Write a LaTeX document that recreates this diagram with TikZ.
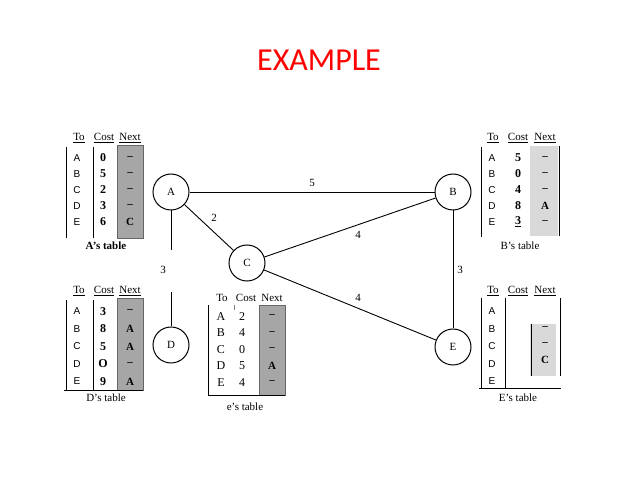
\documentclass[tikz,border=0pt]{standalone}
\usepackage{fontspec}
\setmainfont{Liberation Serif}
\setsansfont{Liberation Sans}
\newfontfamily\titlefont{Carlito}
\begin{document}
\begin{tikzpicture}[x=1pt,y=-1pt,
  router/.style={circle,draw,line width=1pt,minimum size=36pt,inner sep=0pt,font=\fontsize{11}{13}\selectfont},
  edge/.style={line width=0.9pt},
  elabel/.style={font=\fontsize{11}{13}\selectfont},
  hdr/.style={font=\fontsize{11}{13}\selectfont,anchor=base},
  let/.style={font=\sffamily\fontsize{10}{12}\selectfont},
  cst/.style={font=\fontsize{12}{14}\selectfont\bfseries},
  nxt/.style={font=\fontsize{11}{13}\selectfont\bfseries},
  tcap/.style={font=\fontsize{11}{13}\selectfont},
  shade/.style={fill=black!35,draw=black!60},
  tline/.style={line width=0.8pt}]
\useasboundingbox (0,0) rectangle (638,478);
\node[font=\titlefont\fontsize{32}{36}\selectfont,text=red] (title) at (319,60) {EXAMPLE};
% routers
\node[router] (A) at (171,192) {A};
\node[router] (B) at (453,192) {B};
\node[router] (C) at (247,263) {C};
\node[router] (D) at (171,345) {D};
\node[router] (E) at (453,347) {E};
\coordinate (ad1) at (171,250);
\coordinate (ad2) at (171,292);
\draw[edge] (A) -- (B);
\draw[edge] (A) -- (C);
\draw[edge] (C) -- (B);
\draw[edge] (C) -- (E);
\draw[edge] (B) -- (E);
\draw[edge] (A) -- (ad1);
\draw[edge] (ad2) -- (D);
\node[elabel] (l5) at (312,183) {5};
\node[elabel] (l2) at (214,218) {2};
\node[elabel] (l4a) at (358,235) {4};
\node[elabel] (l4b) at (358,298) {4};
\node[elabel] (l3a) at (163,270) {3};
\node[elabel] (l3b) at (460,270) {3};
% A's table
\fill[shade] (117,145) rectangle (143,238);
\draw[tline] (66,147) -- (66,238) (93,147) -- (93,238);
\node[hdr] (ah1) at (79,141) {\underline{To}};
\node[hdr] (ah2) at (104,141) {\underline{Cost}};
\node[hdr] (ah3) at (130,141) {\underline{Next}};
\foreach \l/\c/\n [count=\i] in {A/0/--,B/5/--,C/2/--,D/3/--,E/6/C}{
  \node[let] (al\i) at (77,142+16*\i) {\l};
  \node[cst] (ac\i) at (103,142+16*\i) {\c};
  \node[nxt] (an\i) at (130,142+16*\i) {\n};}
\node[tcap,font=\fontsize{11}{13}\selectfont\bfseries] (acap) at (106,246) {A's table};
% D's table
\fill[shade] (117,298) rectangle (143,390);
\draw[tline] (66,300) -- (66,390) (93,300) -- (93,390) (64,390) -- (143,390);
\node[hdr] (dh1) at (79,294) {\underline{To}};
\node[hdr] (dh2) at (104,294) {\underline{Cost}};
\node[hdr] (dh3) at (130,294) {\underline{Next}};
\foreach \l/\c/\n [count=\i] in {A/3/--,B/8/A,C/5/A,D/O/--,E/9/A}{
  \node[let] (dl\i) at (77,294+17.5*\i) {\l};
  \node[cst] (dc\i) at (103,294+17.5*\i) {\c};
  \node[nxt] (dn\i) at (130,294+17.5*\i) {\n};}
\node[tcap] (dcap) at (106,398) {D's table};
% C's table
\fill[shade] (259,305) rectangle (285,395);
\draw[tline] (208,305) -- (208,395) -- (285,395);
\draw[black!50] (234,305) -- (234,310);
\node[hdr] (ch1) at (222,302) {To};
\node[hdr] (ch2) at (246,302) {Cost};
\node[hdr] (ch3) at (272,302) {Next};
\foreach \l/\c/\n [count=\i] in {A/2/--,B/4/--,C/0/--,D/5/A,E/4/--}{
  \node[font=\fontsize{12}{14}\selectfont] (cl\i) at (221,300+16.5*\i) {\l};
  \node[font=\fontsize{12}{14}\selectfont] (cc\i) at (242,300+16.5*\i) {\c};
  \node[nxt] (cn\i) at (272,300+16.5*\i) {\n};}
\node[tcap] (ccap) at (245,407) {e's table};
% B's table
\fill[black!15] (530,146) rectangle (558,236);
\draw[tline] (481,147) -- (481,237) (559,146) -- (559,236);
\node[hdr] (bh1) at (493,141) {\underline{To}};
\node[hdr] (bh2) at (518,141) {\underline{Cost}};
\node[hdr] (bh3) at (545,141) {\underline{Next}};
\foreach \l/\c/\n [count=\i] in {A/5/--,B/0/--,C/4/--,D/8/A,E/\underline{3}/--}{
  \node[let] (bl\i) at (492,142+16*\i) {\l};
  \node[cst] (bc\i) at (518,142+16*\i) {\c};
  \node[nxt] (bn\i) at (545,142+16*\i) {\n};}
\node[tcap] (bcap) at (520,246) {B's table};
% E's table
\fill[black!15] (530,324) rectangle (556,376);
\draw[tline] (531,324) -- (531,376);
\draw[tline] (481,298) -- (481,388) (505,298) -- (505,388) (479,388) -- (561,388) (560,298) -- (560,376);
\node[hdr] (eh1) at (493,294) {\underline{To}};
\node[hdr] (eh2) at (518,294) {\underline{Cost}};
\node[hdr] (eh3) at (545,294) {\underline{Next}};
\foreach \l [count=\i] in {A,B,C,D,E}{
  \node[let] (el\i) at (492,294+17.5*\i) {\l};}
\node[nxt] (en2) at (545,328) {--};
\node[nxt] (en3) at (545,344) {--};
\node[nxt] (en4) at (545,360) {C};
\node[tcap] (ecap) at (518,398) {E's table};
\end{tikzpicture}
\end{document}
